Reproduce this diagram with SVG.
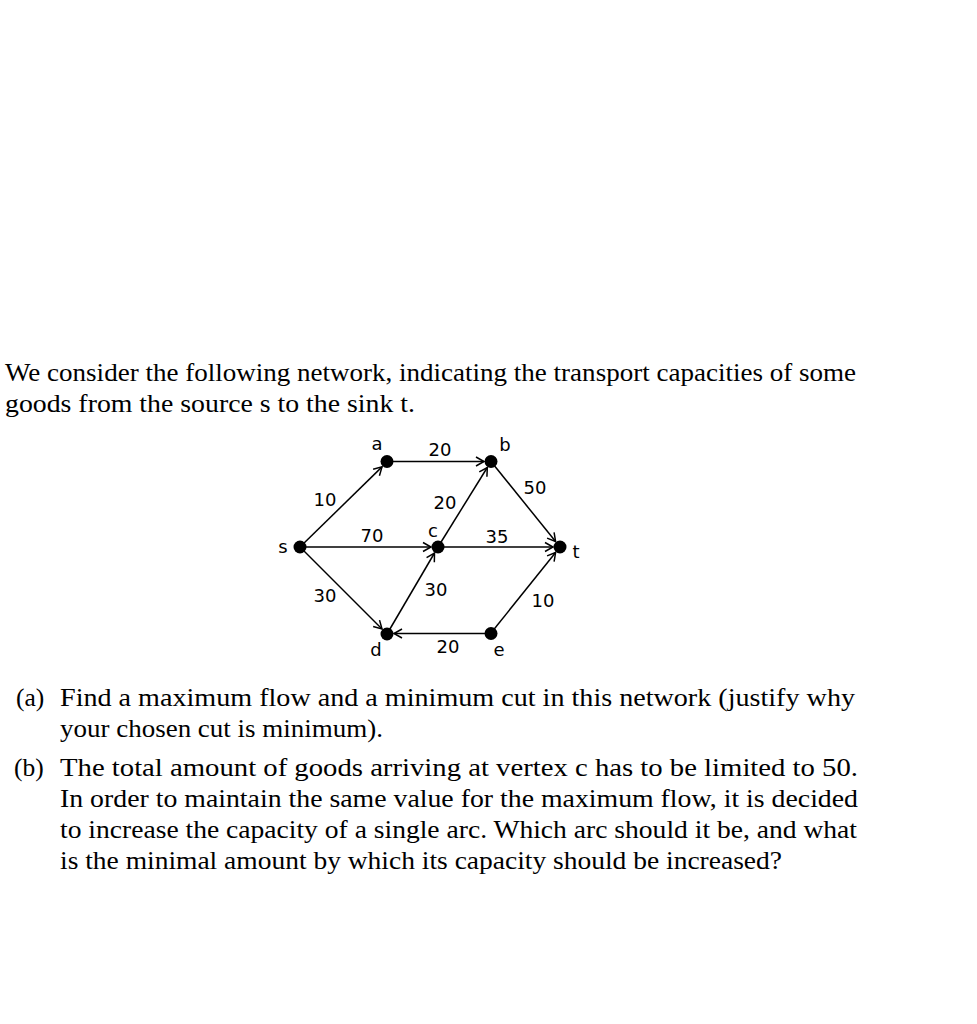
<svg xmlns="http://www.w3.org/2000/svg" width="977" height="1024" viewBox="0 0 977 1024">
<style>
.t{font-family:"Liberation Serif","Times New Roman",serif;font-size:25.5px;fill:#000}
.l{font-family:"DejaVu Sans","Liberation Sans",sans-serif;font-size:18px;fill:#000}
.lc{text-anchor:middle}
.e{stroke:#000;stroke-width:1.5;fill:none;marker-end:url(#arr)}
.n{fill:#000}
</style>
<defs>
<marker id="arr" markerWidth="12" markerHeight="12" refX="10" refY="6" orient="auto" markerUnits="userSpaceOnUse">
<path d="M2,1.5 L10,6 L2,10.5" fill="none" stroke="#000" stroke-width="1.5"/>
</marker>
</defs>
<rect width="977" height="1024" fill="#fff"/>
<g id="text">
<text class="t" x="5" y="381" textLength="851" lengthAdjust="spacingAndGlyphs">We consider the following network, indicating the transport capacities of some</text>
<text class="t" x="5" y="412" textLength="410" lengthAdjust="spacingAndGlyphs">goods from the source s to the sink t.</text>
<text class="t" x="16" y="706">(a)</text>
<text class="t" x="60" y="706" textLength="795" lengthAdjust="spacingAndGlyphs">Find a maximum flow and a minimum cut in this network (justify why</text>
<text class="t" x="60" y="737" textLength="323" lengthAdjust="spacingAndGlyphs">your chosen cut is minimum).</text>
<text class="t" x="14" y="776">(b)</text>
<text class="t" x="60" y="776" textLength="798" lengthAdjust="spacingAndGlyphs">The total amount of goods arriving at vertex c has to be limited to 50.</text>
<text class="t" x="60" y="807" textLength="798" lengthAdjust="spacingAndGlyphs">In order to maintain the same value for the maximum flow, it is decided</text>
<text class="t" x="60" y="838" textLength="797" lengthAdjust="spacingAndGlyphs">to increase the capacity of a single arc. Which arc should it be, and what</text>
<text class="t" x="60" y="869" textLength="722" lengthAdjust="spacingAndGlyphs">is the minimal amount by which its capacity should be increased?</text>
</g>
<g id="connectors">
<line class="e" x1="300" y1="547" x2="382" y2="466.9"/>
<line class="e" x1="387" y1="461.5" x2="484" y2="461.5"/>
<line class="e" x1="491" y1="461.5" x2="555.6" y2="541.5"/>
<line class="e" x1="300" y1="547" x2="431" y2="547"/>
<line class="e" x1="438" y1="547" x2="553" y2="547"/>
<line class="e" x1="438" y1="547" x2="487.3" y2="467.5"/>
<line class="e" x1="300" y1="547" x2="382" y2="629"/>
<line class="e" x1="387" y1="634" x2="434.5" y2="553"/>
<line class="e" x1="491" y1="633.5" x2="394" y2="633.5"/>
<line class="e" x1="491" y1="633" x2="555.6" y2="552.5"/>
</g>
<g id="edge-labels">
<text class="l lc" x="440" y="456">20</text>
<text class="l lc" x="535" y="494">50</text>
<text class="l lc" x="325" y="506">10</text>
<text class="l lc" x="445" y="509">20</text>
<text class="l lc" x="372" y="542">70</text>
<text class="l lc" x="497" y="543">35</text>
<text class="l lc" x="325" y="602">30</text>
<text class="l lc" x="436" y="596">30</text>
<text class="l lc" x="543" y="607">10</text>
<text class="l lc" x="448" y="653">20</text>
</g>
<g id="node-s"><circle class="n" cx="300" cy="547" r="6.5"/><text class="l lc" x="283" y="553">s</text></g>
<g id="node-a"><circle class="n" cx="387" cy="461.5" r="6.5"/><text class="l lc" x="377" y="450">a</text></g>
<g id="node-b"><circle class="n" cx="491" cy="461.5" r="6.5"/><text class="l lc" x="505" y="451">b</text></g>
<g id="node-c"><circle class="n" cx="438" cy="547" r="6.5"/><text class="l lc" x="433" y="537">c</text></g>
<g id="node-t"><circle class="n" cx="560" cy="547" r="6.5"/><text class="l lc" x="576" y="558">t</text></g>
<g id="node-d"><circle class="n" cx="387" cy="634" r="6.5"/><text class="l lc" x="376" y="656">d</text></g>
<g id="node-e"><circle class="n" cx="491" cy="633.5" r="6.5"/><text class="l lc" x="499" y="656">e</text></g>
</svg>
